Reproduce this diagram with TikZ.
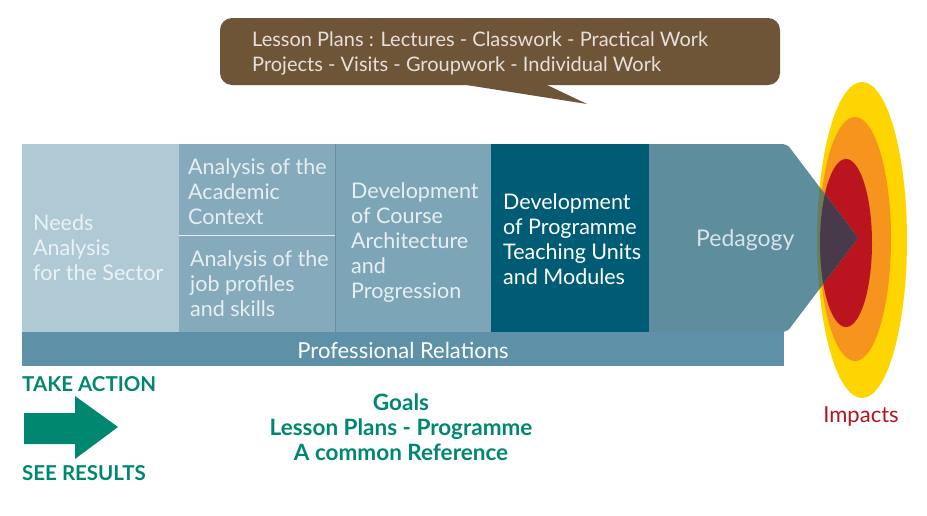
\documentclass[tikz,border=0pt]{standalone}
\usepackage{fontspec}
\setmainfont{Lato}
\usetikzlibrary{positioning,calc}
\definecolor{needsC}{HTML}{B0CAD5}
\definecolor{acadC}{HTML}{84AABB}
\definecolor{archC}{HTML}{7CA6B7}
\definecolor{progC}{HTML}{005B75}
\definecolor{pedC}{HTML}{5E8E9E}
\definecolor{profC}{HTML}{5E90A7}
\definecolor{brownC}{HTML}{6F5538}
\definecolor{tealC}{HTML}{00876F}
\definecolor{impC}{HTML}{B3141E}
\definecolor{yelC}{HTML}{FFD500}
\definecolor{oraC}{HTML}{F7941D}
\definecolor{redC}{HTML}{BA141F}
\definecolor{oliveC}{HTML}{687E59}
\definecolor{plumC}{HTML}{483A4B}

\begin{document}
\begin{tikzpicture}[x=1pt,y=-1pt,
    lbl/.style={anchor=west, align=left, inner sep=0pt, font=\fontsize{21.5}{25}\selectfont},
    mid/.style={align=center, inner sep=0pt, font=\fontsize{22}{25}\selectfont},
    act/.style={anchor=west, inner sep=0pt, text=tealC, font=\fontsize{20.5}{25}\selectfont\bfseries}]
  \useasboundingbox (0,0) rectangle (927,515);

  % speech bubble
  \fill[brownC, rounded corners=12] (220,18) rectangle (780,85);
  \fill[brownC] (460,84) -- (587,104) -- (545,84) -- cycle;
  \node[lbl, text=white!82!brownC, font=\fontsize{20}{25}\selectfont] (lessons) at (252,53)
    {Lesson Plans : Lectures - Classwork - Practical Work\\Projects - Visits - Groupwork - Individual Work};

  % impacts target
  \fill[yelC] (862,240) ellipse[x radius=45, y radius=158];
  \fill[oraC] (855,239) ellipse[x radius=36, y radius=122];
  \fill[redC] (846,243) ellipse[x radius=26, y radius=84];

  % stages
  \fill[pedC, rounded corners=5] (640,144) -- (787,144) -- (858,238) -- (787,332) -- (640,332) -- cycle;
  \begin{scope}
    \clip (640,144) -- (787,144) -- (858,238) -- (787,332) -- (640,332) -- cycle;
    \fill[oliveC] (862,240) ellipse[x radius=45, y radius=158];
    \fill[plumC] (846,243) ellipse[x radius=26, y radius=84];
  \end{scope}
  \fill[needsC] (22,144) rectangle (179,332);
  \fill[acadC] (179,144) rectangle (335,332);
  \fill[archC] (335,144) rectangle (491,332);
  \fill[progC] (491,144) rectangle (649,332);
  \draw[white!80!acadC, line width=1pt] (179,235.5) -- (335,235.5);
  \draw[archC!85!black, line width=0.6pt] (335.5,144) -- (335.5,332);
  \fill[profC] (22,332) rectangle (784,366);

  \node[lbl, text=white!75!needsC] (needs) at (33,248) {Needs\\Analysis\\for the Sector};
  \node[lbl, text=white!80!acadC] (academic) at (188,192) {Analysis of the\\Academic\\Context};
  \node[lbl, text=white!80!acadC] (jobs) at (190,284) {Analysis of the\\job profiles\\and skills};
  \node[lbl, text=white!82!archC] (course) at (351,243) {Development\\of Course\\Architecture\\and\\Progression};
  \node[lbl, text=white] (programme) at (503,239) {Development\\of Programme\\Teaching Units\\and Modules};
  \node[lbl, text=white!75!pedC, font=\fontsize{23}{25}\selectfont] (pedagogy) at (696,240) {Pedagogy};
  \node[mid, text=white] (relations) at (403,350) {Professional Relations};

  % take action
  \node[act] (take) at (22,384) {TAKE ACTION};
  \fill[tealC] (24,413) -- (75,413) -- (75,396) -- (118,427) -- (75,459) -- (75,444) -- (24,444) -- cycle;
  \node[act] (see) at (22,473) {SEE RESULTS};
  \node[mid, text=tealC, font=\fontsize{22.5}{25}\selectfont\bfseries] (goals) at (401,427)
    {Goals\\Lesson Plans - Programme\\A common Reference};
  \node[mid, text=impC] (impacts) at (861,416) {Impacts};
\end{tikzpicture}
\end{document}
